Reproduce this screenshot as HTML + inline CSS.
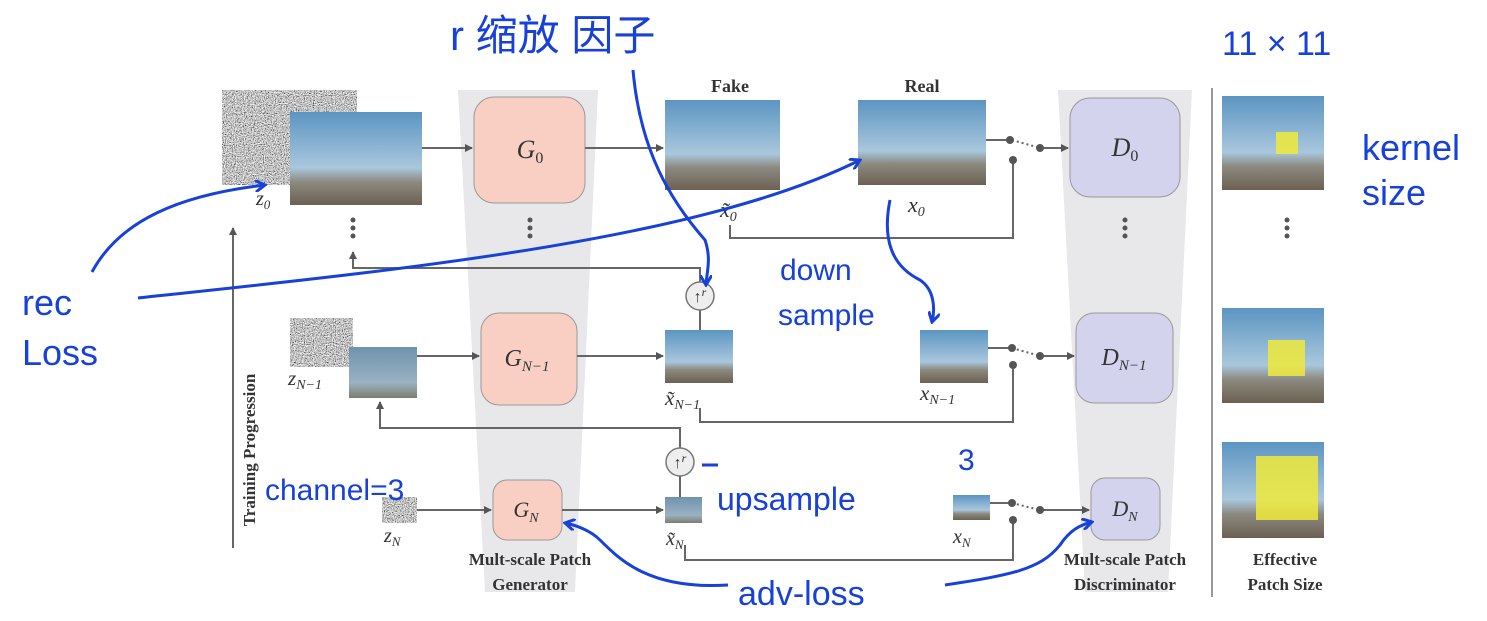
<!DOCTYPE html>
<html><head><meta charset="utf-8"><style>
body{margin:0;background:#fff;}
svg{display:block}
.s{font-family:"Liberation Serif",serif;fill:#333}
.b{font-family:"Comic Sans MS","Liberation Sans","Noto Sans CJK SC",sans-serif;fill:#1741d8}
</style></head><body>
<svg width="1487" height="621" viewBox="0 0 1487 621" xmlns="http://www.w3.org/2000/svg">
<defs>
<filter id="nz" x="0" y="0" width="100%" height="100%"><feTurbulence type="fractalNoise" baseFrequency="0.9" numOctaves="2" seed="3"/><feColorMatrix type="saturate" values="0"/><feComponentTransfer><feFuncR type="linear" slope="2.6" intercept="-0.75"/><feFuncG type="linear" slope="2.6" intercept="-0.75"/><feFuncB type="linear" slope="2.6" intercept="-0.75"/><feFuncA type="linear" slope="0" intercept="1"/></feComponentTransfer></filter>
<linearGradient id="ph" x1="0" y1="0" x2="0" y2="1"><stop offset="0" stop-color="#5c95c2"/><stop offset="0.6" stop-color="#a9c7dd"/><stop offset="0.75" stop-color="#8c8a80"/><stop offset="1" stop-color="#6c6052"/></linearGradient>
<linearGradient id="bl" x1="0" y1="0" x2="0" y2="1"><stop offset="0" stop-color="#6f93ad"/><stop offset="0.7" stop-color="#9ab2c2"/><stop offset="1" stop-color="#7d7d70"/></linearGradient>
<marker id="a" markerWidth="8" markerHeight="8" refX="7" refY="4" orient="auto" markerUnits="userSpaceOnUse"><path d="M0,0 L8,4 L0,8 z" fill="#555"/></marker>
<marker id="ab" markerWidth="12" markerHeight="12" refX="10" refY="6" orient="auto" markerUnits="userSpaceOnUse"><path d="M0,0 L10,6 L0,12" fill="none" stroke="#1741d8" stroke-width="3"/></marker>
</defs>
<polygon points="458,90 598,90 575,592 485,592" fill="#e8e8ea"/>
<polygon points="1058,90 1192,90 1168,592 1085,592" fill="#e8e8ea"/>
<line x1="1212" y1="88" x2="1212" y2="597" stroke="#999" stroke-width="2"/>
<rect x="222" y="90" width="135" height="95" filter="url(#nz)"/>
<rect x="290" y="112" width="132" height="93" fill="url(#ph)"/>
<text x="256" y="205" class="s" font-size="20" font-style="italic">z<tspan font-size="13" dy="4">0</tspan></text>
<rect x="665" y="100" width="115" height="90" fill="url(#ph)"/>
<rect x="858" y="100" width="128" height="85" fill="url(#ph)"/>
<text x="730" y="92" class="s" font-size="18" font-weight="bold" text-anchor="middle">Fake</text>
<text x="922" y="92" class="s" font-size="18" font-weight="bold" text-anchor="middle">Real</text>
<text x="720" y="217" class="s" font-size="22" font-style="italic">x̃<tspan font-size="14" dy="4">0</tspan></text>
<text x="908" y="212" class="s" font-size="22" font-style="italic">x<tspan font-size="14" dy="4">0</tspan></text>
<rect x="474" y="97" width="111" height="106" rx="20" fill="#f9cfc4" stroke="#999"/>
<text x="530" y="158" class="s" font-size="26" text-anchor="middle" font-style="italic">G<tspan font-size="16" dy="5" font-style="normal">0</tspan></text>
<rect x="481" y="313" width="96" height="92" rx="18" fill="#f9cfc4" stroke="#999"/>
<text x="527" y="366" class="s" font-size="24" text-anchor="middle" font-style="italic">G<tspan font-size="15" dy="5">N−1</tspan></text>
<rect x="493" y="480" width="69" height="60" rx="14" fill="#f9cfc4" stroke="#999"/>
<text x="526" y="517" class="s" font-size="22" text-anchor="middle" font-style="italic">G<tspan font-size="14" dy="5">N</tspan></text>
<rect x="1070" y="98" width="110" height="99" rx="20" fill="#d3d3ed" stroke="#999"/>
<text x="1125" y="156" class="s" font-size="26" text-anchor="middle" font-style="italic">D<tspan font-size="16" dy="5" font-style="normal">0</tspan></text>
<rect x="1076" y="313" width="97" height="90" rx="18" fill="#d3d3ed" stroke="#999"/>
<text x="1124" y="365" class="s" font-size="24" text-anchor="middle" font-style="italic">D<tspan font-size="15" dy="5">N−1</tspan></text>
<rect x="1091" y="478" width="69" height="62" rx="14" fill="#d3d3ed" stroke="#999"/>
<text x="1125" y="516" class="s" font-size="22" text-anchor="middle" font-style="italic">D<tspan font-size="14" dy="5">N</tspan></text>
<g fill="#555"><circle cx="353" cy="220" r="2.5"/><circle cx="353" cy="228" r="2.5"/><circle cx="353" cy="236" r="2.5"/>
<circle cx="530" cy="220" r="2.5"/><circle cx="530" cy="228" r="2.5"/><circle cx="530" cy="236" r="2.5"/>
<circle cx="1125" cy="220" r="2.5"/><circle cx="1125" cy="228" r="2.5"/><circle cx="1125" cy="236" r="2.5"/>
<circle cx="1287" cy="220" r="2.5"/><circle cx="1287" cy="228" r="2.5"/><circle cx="1287" cy="236" r="2.5"/></g>
<g stroke="#666" stroke-width="2" fill="none">
<line x1="422" y1="148" x2="472" y2="148" marker-end="url(#a)"/>
<line x1="585" y1="148" x2="663" y2="148" marker-end="url(#a)"/>
<line x1="986" y1="140" x2="1010" y2="140"/>
<line x1="1012" y1="140" x2="1040" y2="148" stroke-dasharray="2,3"/>
<line x1="1042" y1="148" x2="1068" y2="148" marker-end="url(#a)"/>
<polyline points="1013,160 1013,238 730,238 730,225"/>
<polyline points="700,282 700,268 353,268 353,252" marker-end="url(#a)"/>
<line x1="700" y1="310" x2="700" y2="330"/>
<line x1="417" y1="356" x2="479" y2="356" marker-end="url(#a)"/>
<line x1="577" y1="356" x2="663" y2="356" marker-end="url(#a)"/>
<line x1="988" y1="348" x2="1010" y2="348"/>
<line x1="1012" y1="348" x2="1040" y2="356" stroke-dasharray="2,3"/>
<line x1="1042" y1="356" x2="1074" y2="356" marker-end="url(#a)"/>
<polyline points="1013,365 1013,422 700,422 700,408"/>
<polyline points="680,448 680,428 380,428 380,402" marker-end="url(#a)"/>
<line x1="680" y1="476" x2="680" y2="497"/>
<line x1="417" y1="510" x2="491" y2="510" marker-end="url(#a)"/>
<line x1="562" y1="510" x2="663" y2="510" marker-end="url(#a)"/>
<line x1="990" y1="503" x2="1010" y2="503"/>
<line x1="1012" y1="503" x2="1040" y2="510" stroke-dasharray="2,3"/>
<line x1="1042" y1="510" x2="1089" y2="510" marker-end="url(#a)"/>
<polyline points="1013,520 1013,560 685,560 685,545"/>
<line x1="233" y1="548" x2="233" y2="228" marker-end="url(#a)"/>
</g>
<g fill="#555"><circle cx="1010" cy="140" r="4"/><circle cx="1040" cy="148" r="4"/><circle cx="1013" cy="160" r="4"/>
<circle cx="1012" cy="348" r="4"/><circle cx="1040" cy="356" r="4"/><circle cx="1013" cy="365" r="4"/>
<circle cx="1012" cy="503" r="4"/><circle cx="1040" cy="510" r="4"/><circle cx="1013" cy="520" r="4"/></g>
<circle cx="700" cy="296" r="14" fill="#eee" stroke="#777" stroke-width="1.5"/>
<text x="700" y="302" class="s" font-size="16" text-anchor="middle">↑<tspan font-style="italic" font-size="12" dy="-6">r</tspan></text>
<circle cx="680" cy="462" r="14" fill="#eee" stroke="#777" stroke-width="1.5"/>
<text x="680" y="468" class="s" font-size="16" text-anchor="middle">↑<tspan font-style="italic" font-size="12" dy="-6">r</tspan></text>
<rect x="290" y="318" width="63" height="49" filter="url(#nz)"/>
<rect x="349" y="347" width="68" height="51" fill="url(#bl)"/>
<text x="288" y="385" class="s" font-size="21" font-style="italic">z<tspan font-size="14" dy="4">N−1</tspan></text>
<rect x="665" y="330" width="68" height="53" fill="url(#ph)"/>
<text x="665" y="405" class="s" font-size="21" font-style="italic">x̃<tspan font-size="14" dy="4">N−1</tspan></text>
<rect x="920" y="330" width="68" height="53" fill="url(#ph)"/>
<text x="920" y="400" class="s" font-size="21" font-style="italic">x<tspan font-size="14" dy="4">N−1</tspan></text>
<rect x="382" y="497" width="35" height="26" filter="url(#nz)"/>
<text x="384" y="542" class="s" font-size="20" font-style="italic">z<tspan font-size="13" dy="4">N</tspan></text>
<rect x="665" y="497" width="37" height="26" fill="url(#bl)"/>
<text x="666" y="545" class="s" font-size="20" font-style="italic">x̃<tspan font-size="13" dy="4">N</tspan></text>
<rect x="953" y="495" width="37" height="25" fill="url(#ph)"/>
<text x="953" y="543" class="s" font-size="20" font-style="italic">x<tspan font-size="13" dy="4">N</tspan></text>
<rect x="1222" y="96" width="102" height="94" fill="url(#ph)"/><rect x="1276" y="132" width="22" height="22" fill="#f0ea3a" opacity="0.85"/>
<rect x="1222" y="308" width="102" height="95" fill="url(#ph)"/><rect x="1268" y="340" width="37" height="36" fill="#f0ea3a" opacity="0.85"/>
<rect x="1222" y="442" width="102" height="96" fill="url(#ph)"/><rect x="1256" y="456" width="62" height="64" fill="#f0ea3a" opacity="0.85"/>
<g class="s" font-size="17" font-weight="bold" text-anchor="middle">
<text x="530" y="565">Mult-scale Patch</text><text x="530" y="590">Generator</text>
<text x="1125" y="565">Mult-scale Patch</text><text x="1125" y="590">Discriminator</text>
<text x="1285" y="565">Effective</text><text x="1285" y="590">Patch Size</text>
</g>
<text transform="translate(255,450) rotate(-90)" class="s" font-size="17" font-weight="bold" text-anchor="middle">Training Progression</text>
<g class="b">
<text x="450" y="50" font-size="42">r 缩放 因子</text>
<text x="1222" y="55" font-size="34">11 × 11</text>
<text x="1362" y="160" font-size="36">kernel</text>
<text x="1362" y="205" font-size="36">size</text>
<text x="22" y="315" font-size="36">rec</text>
<text x="22" y="365" font-size="36">Loss</text>
<text x="780" y="280" font-size="30">down</text>
<text x="778" y="325" font-size="30">sample</text>
<text x="958" y="470" font-size="30">3</text>
<text x="265" y="500" font-size="30">channel=3</text>
<text x="717" y="510" font-size="32">upsample</text>
<text x="738" y="605" font-size="34">adv-loss</text>
</g>
<g stroke="#1741d8" stroke-width="3" fill="none">
<path d="M92,272 C120,220 180,195 265,185" marker-end="url(#ab)"/>
<path d="M138,298 C400,270 700,240 860,160" marker-end="url(#ab)"/>
<path d="M633,70 C640,150 670,200 705,240 C712,260 706,275 706,285" marker-end="url(#ab)"/>
<path d="M890,200 C880,250 900,270 920,280 C935,290 935,310 932,322" marker-end="url(#ab)"/>
<path d="M702,465 L718,465"/>
<path d="M728,585 C650,590 620,560 600,540 C590,530 575,525 565,523" marker-end="url(#ab)"/>
<path d="M945,585 C1010,575 1040,570 1060,545 C1070,530 1080,525 1092,522" marker-end="url(#ab)"/>
</g>
</svg>
</body></html>
